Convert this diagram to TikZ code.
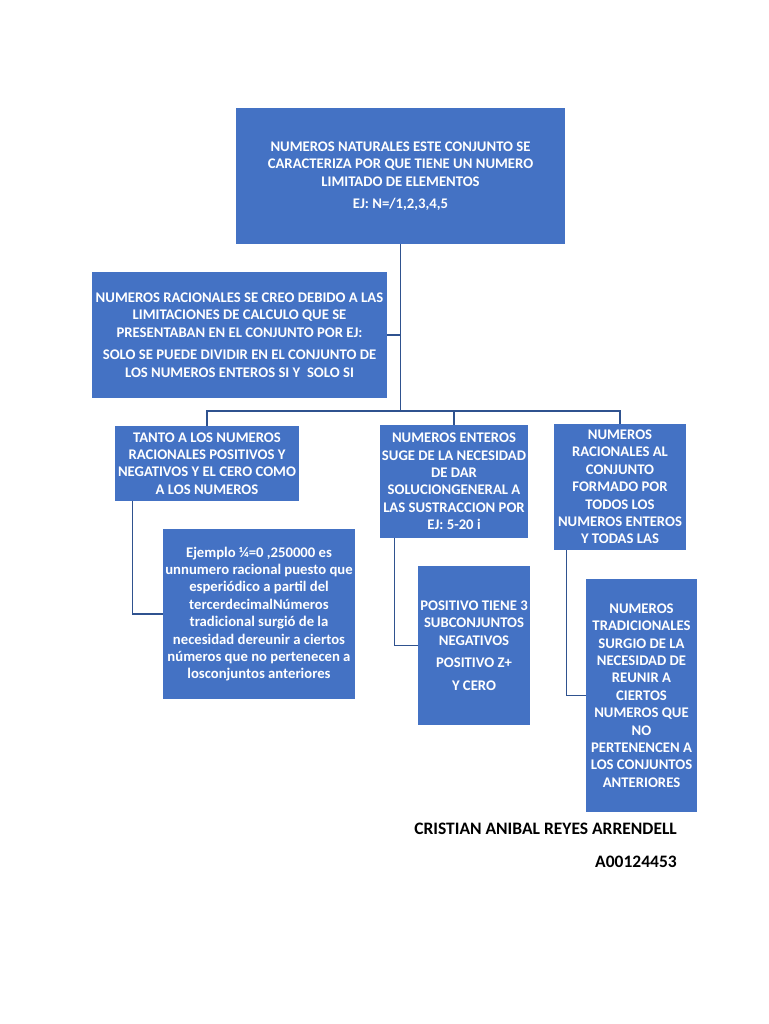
\documentclass[tikz,border=0pt]{standalone}
\usepackage{fontspec}
\setmainfont{Carlito}
\usepackage{tikz}
\usetikzlibrary{positioning}
\definecolor{officeblue}{RGB}{68,114,196}
\definecolor{linknavy}{RGB}{47,82,143}

\begin{document}
\begin{tikzpicture}[
    x=1pt, y=-1pt,
    box/.style={rectangle, draw=none, fill=officeblue, text=white, align=center, inner sep=1pt,
                font=\fontsize{14.7}{17.4}\selectfont\bfseries},
    link/.style={draw=linknavy, line width=1.2pt},
    autor/.style={anchor=east, inner sep=0pt, font=\fontsize{17.5}{20}\selectfont\bfseries}
]
    \useasboundingbox (0,0) rectangle (768,1024);

    % Top
    \node[box, minimum width=329pt, minimum height=136pt] (nat) at (400.5,176)
        {NUMEROS NATURALES ESTE CONJUNTO SE\\CARACTERIZA POR QUE TIENE UN NUMERO\\LIMITADO DE ELEMENTOS\\[5pt]EJ: N=/1,2,3,4,5};

    % Second level
    \node[box, minimum width=295pt, minimum height=126pt] (rac) at (239.5,335)
        {NUMEROS RACIONALES SE CREO DEBIDO A LAS\\LIMITACIONES DE CALCULO QUE SE\\PRESENTABAN EN EL CONJUNTO POR EJ:\\[5pt]SOLO SE PUEDE DIVIDIR EN EL CONJUNTO DE\\LOS NUMEROS ENTEROS SI Y\ \ SOLO SI};

    % Third level
    \node[box, minimum width=184pt, minimum height=75pt] (tanto) at (207,463.5)
        {TANTO A LOS NUMEROS\\RACIONALES POSITIVOS Y\\NEGATIVOS Y EL CERO COMO\\A LOS NUMEROS};
    \node[box, minimum width=148pt, minimum height=113pt] (ent) at (454,481.5)
        {NUMEROS ENTEROS\\SUGE DE LA NECESIDAD\\DE DAR\\SOLUCIONGENERAL A\\LAS SUSTRACCION POR\\EJ: 5-20 i};
    \node[box, minimum width=132pt, minimum height=126pt] (racal) at (620,487)
        {NUMEROS\\RACIONALES AL\\CONJUNTO\\FORMADO POR\\TODOS LOS\\NUMEROS ENTEROS\\Y TODAS LAS};

    % Fourth level
    \node[box, minimum width=192pt, minimum height=170pt] (ejem) at (259,614)
        {Ejemplo ¼=0 ,250000 es\\unnumero racional puesto que\\esperiódico a partil del\\tercerdecimalNúmeros\\tradicional surgió de la\\necesidad dereunir a ciertos\\números que no pertenecen a\\losconjuntos anteriores};
    \node[box, minimum width=112pt, minimum height=159pt] (pos) at (474,645.5)
        {POSITIVO TIENE 3\\SUBCONJUNTOS\\NEGATIVOS\\[5pt]POSITIVO Z+\\[5pt]Y CERO};
    \node[box, minimum width=111pt, minimum height=233pt] (trad) at (641.5,695.5)
        {NUMEROS\\TRADICIONALES\\SURGIO DE LA\\NECESIDAD DE\\REUNIR A\\CIERTOS\\NUMEROS QUE\\NO\\PERTENENCEN A\\LOS CONJUNTOS\\ANTERIORES};

    % Author
    \node[autor] (nombre) at (677,829) {CRISTIAN ANIBAL REYES ARRENDELL};
    \node[autor] (matricula) at (677,862) {A00124453};

    % Connectors
    \coordinate (hub) at (400.5,411);
    \draw[link] (nat.south) -- (hub);
    \draw[link] (rac.east) -- (rac.east -| hub);
    \draw[link] (tanto.north) |- (hub) -| (racal.north);
    \draw[link] (hub) -| (ent.north);
    \draw[link] ([xshift=18pt]tanto.south west) |- (ejem.west);
    \draw[link] ([xshift=15pt]ent.south west) |- (pos.west);
    \draw[link] ([xshift=13pt]racal.south west) |- (trad.west);
\end{tikzpicture}
\end{document}
